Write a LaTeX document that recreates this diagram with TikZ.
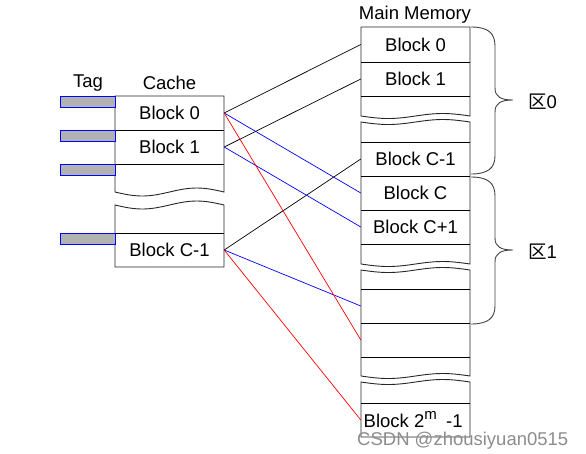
\documentclass[tikz,border=0pt]{standalone}
\usepackage{fontspec}
\setmainfont{Liberation Sans}
\newfontfamily\cjk{Noto Sans CJK SC}
\begin{document}
\begin{tikzpicture}[x=1pt,y=-1pt,
  txt/.style={font=\fontsize{18.5}{22}\selectfont, inner sep=0pt},
  row/.style={txt, minimum width=109pt, minimum height=34pt, draw=none},
  tagbox/.style={draw=blue, fill=black!30, line width=0.8pt, minimum width=55pt, minimum height=11pt, inner sep=0pt},
  outline/.style={draw=black!85, line width=0.9pt},
  sep/.style={draw=black, line width=0.8pt},
  link/.style={line width=0.7pt},
  brace/.style={draw=black!75, line width=0.9pt}
]
\useasboundingbox (0,0) rectangle (586,453);

% ---------- Cache ----------
\path[outline] (115,96) -- (115,192) sin (142.25,196) cos (169.5,192) sin (196.75,188) cos (224,192) -- (224,96) -- cycle;
\path[outline] (115,205) sin (142.25,209) cos (169.5,205) sin (196.75,201) cos (224,205) -- (224,267) -- (115,267) -- cycle;
\draw[sep] (115,130) -- (224,130);
\draw[sep] (115,164) -- (224,164);
\draw[sep] (115,233) -- (224,233);

\node[row] (c0) at (169.5,113) {Block 0};
\node[row] (c1) at (169.5,147) {Block 1};
\node[row] (cC1) at (169.5,250) {Block C-1};

\node[tagbox] (t0) at (87.5,101.5) {};
\node[tagbox] (t1) at (87.5,135.5) {};
\node[tagbox] (t2) at (87.5,169.5) {};
\node[tagbox] (t3) at (87.5,238.5) {};

\node[txt] (taglabel) at (88,83) {Tag};
\node[txt] (cachelabel) at (169.5,83) {Cache};

% ---------- Main Memory ----------
\path[outline] (361,27) -- (361,116) sin (388.25,118.5) cos (415.5,116) sin (442.75,113.5) cos (470,116) -- (470,27) -- cycle;
\path[outline] (361,122) sin (388.25,124.5) cos (415.5,122) sin (442.75,119.5) cos (470,122) -- (470,264) sin (442.75,261.5) cos (415.5,264) sin (388.25,266.5) cos (361,264) -- cycle;
\path[outline] (361,270) sin (388.25,272.5) cos (415.5,270) sin (442.75,267.5) cos (470,270) -- (470,376) sin (442.75,373.5) cos (415.5,376) sin (388.25,378.5) cos (361,376) -- cycle;
\path[outline] (361,382) sin (388.25,384.5) cos (415.5,382) sin (442.75,379.5) cos (470,382) -- (470,437) -- (361,437) -- cycle;
\foreach \yy in {62,96,142,176,210,244,289,323,357,403}
  \draw[sep] (361,\yy) -- (470,\yy);

\node[txt] (mmlabel) at (415,15) {Main Memory};
\node[row] (m0) at (415.5,44.5) {Block 0};
\node[row] (m1) at (415.5,79) {Block 1};
\node[row] (mC1) at (415.5,159) {Block C-1};
\node[row] (mC) at (415.5,193) {Block C};
\node[row] (mCp1) at (415.5,227) {Block C+1};
\node[row] (mx) at (415.5,306) {};
\node[row] (my) at (415.5,340) {};
\node[row] (mlast) at (415.5,420) {};
\node[txt, anchor=west] (mlasttext) at (363.5,419.5) {Block 2\raisebox{0.9ex}{\fontsize{15}{16}\selectfont m}\,\,\,-1};

% ---------- Connectors ----------
\draw[link, black] (c0.east) -- (m0.west);
\draw[link, black] (c1.east) -- (m1.west);
\draw[link, black] (cC1.east) -- (mC1.west);
\draw[link, blue] (c0.east) -- (mC.west);
\draw[link, blue] (c1.east) -- (mCp1.west);
\draw[link, blue] (cC1.east) -- (mx.west);
\draw[link, red] (c0.east) -- (my.west);
\draw[link, red] (cC1.east) -- (mlast.west);

% ---------- Braces ----------
\path[brace] (471,27) .. controls (488,27) and (495,33) .. (495,46) -- (495,88)
  .. controls (495,97) and (501,100) .. (513,100)
  .. controls (501,100) and (495,103) .. (495,112) -- (495,156)
  .. controls (495,168) and (488,174) .. (471,174);
\path[brace] (471,177) .. controls (488,177) and (495,183) .. (495,196) -- (495,238)
  .. controls (495,247) and (501,250) .. (513,250)
  .. controls (501,250) and (495,253) .. (495,262) -- (495,306)
  .. controls (495,318) and (488,324) .. (471,324);
\node[txt, anchor=west] (q0) at (528,102) {{\cjk 区}0};
\node[txt, anchor=west] (q1) at (528,252) {{\cjk 区}1};

% ---------- Watermark ----------
\node[txt, anchor=west, text=black!45] (wm) at (357,441) {CSDN @zhousiyuan0515};
\end{tikzpicture}
\end{document}
